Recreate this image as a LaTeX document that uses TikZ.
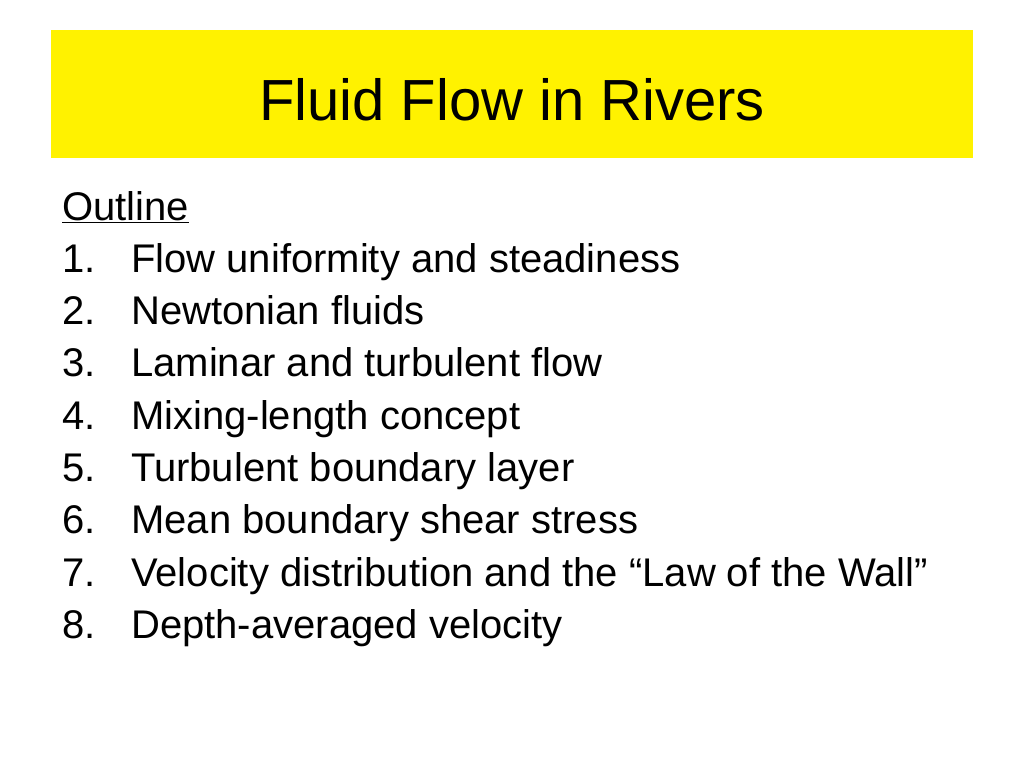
\documentclass[tikz,border=0pt]{standalone}
\usepackage{fontspec}
\setmainfont{Liberation Sans}
\begin{document}
\begin{tikzpicture}[x=1pt,y=-1pt,
  item/.style={anchor=base west,inner sep=0pt,font=\fontsize{40}{40}\selectfont}]
\useasboundingbox[fill=white] (0,0) rectangle (1024,768);
\fill[yellow] (51,30) rectangle (973,158);
\node[inner sep=0pt,anchor=base,font=\fontsize{58}{58}\selectfont] (title) at (512,120) {Fluid Flow in Rivers};
\node[item] (outline) at (62,220) {\underline{Outline}};
\foreach \n/\t [count=\i] in {1/Flow uniformity and steadiness,2/Newtonian fluids,3/Laminar and turbulent flow,4/Mixing-length concept,5/Turbulent boundary layer,6/Mean boundary shear stress,7/Velocity distribution and the “Law of the Wall”,8/Depth-averaged velocity}{
  \node[item] (n\i) at (62,{220+52.3*\i}) {\n.};
  \node[item] (t\i) at (131,{220+52.3*\i}) {\t};
}
\end{tikzpicture}
\end{document}
